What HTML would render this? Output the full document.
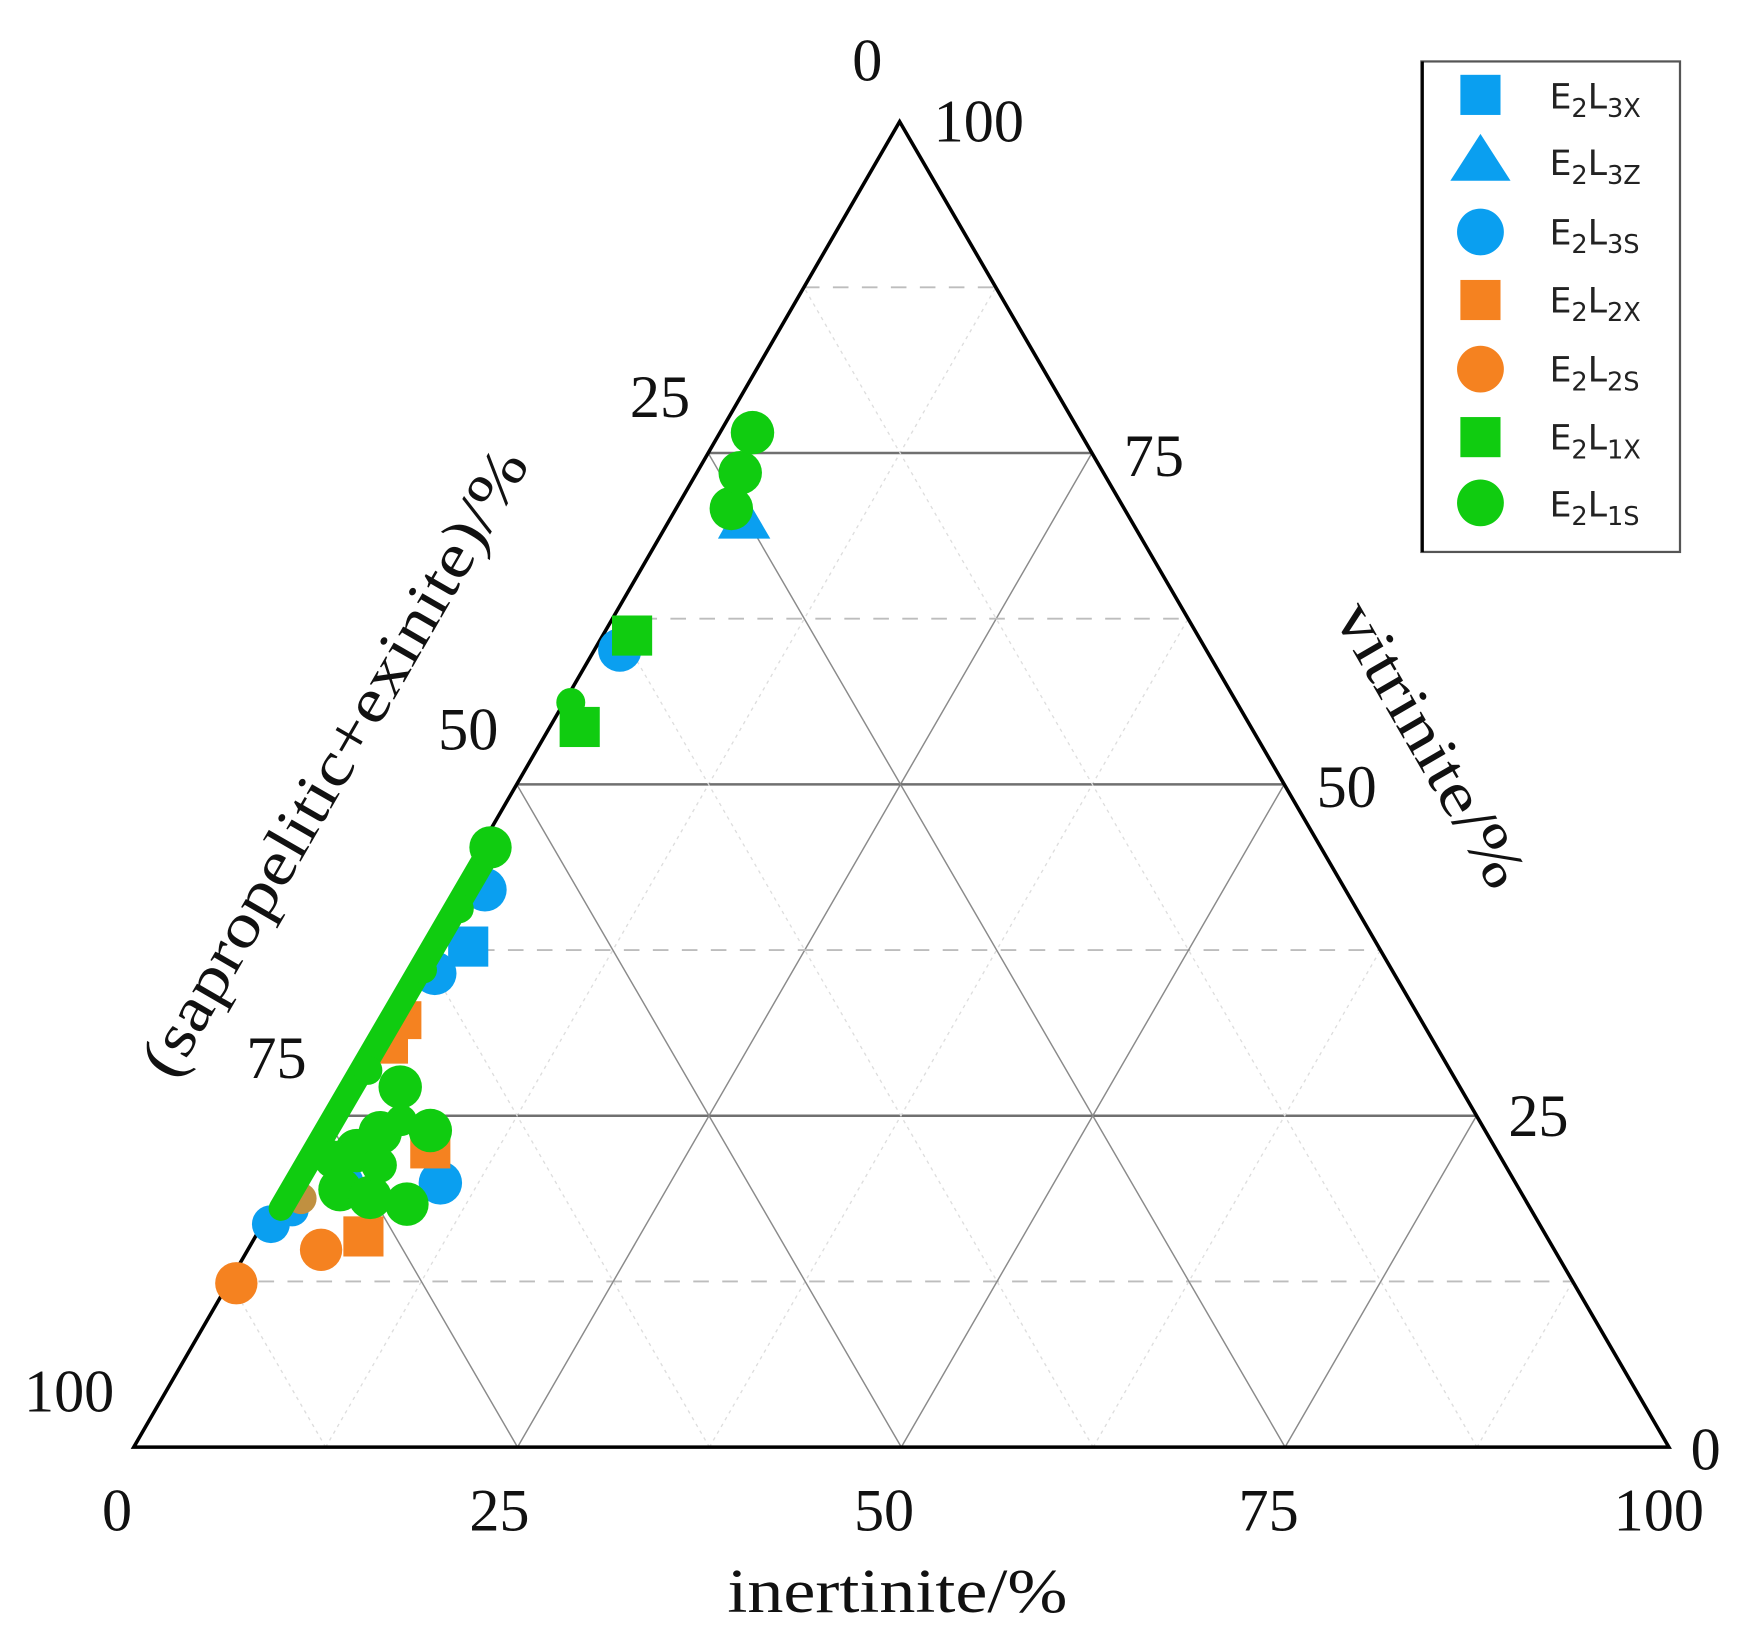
<!DOCTYPE html>
<html><head><meta charset="utf-8"><style>html,body{margin:0;padding:0;background:#fff}svg{display:block}</style></head>
<body>
<svg width="1748" height="1639" viewBox="0 0 1568 1470" xmlns="http://www.w3.org/2000/svg" font-family="'Liberation Serif',serif">
<rect width="1568" height="1470" fill="#fff"/>
<g id="grid"></g>
<script>
(function(){
var A=[807,109],L=[120,1298],R=[1497,1298];
var g=document.getElementById('grid'),ns='http://www.w3.org/2000/svg';
function P(i,v){
 return [L[0]+i*(R[0]-L[0])+v*(A[0]-L[0]), L[1]+v*(A[1]-L[1])];}
function ln(p,q,st,w,da){var e=document.createElementNS(ns,'line');e.setAttribute('x1',p[0]);e.setAttribute('y1',p[1]);e.setAttribute('x2',q[0]);e.setAttribute('y2',q[1]);e.setAttribute('stroke',st);e.setAttribute('stroke-width',w);if(da)e.setAttribute('stroke-dasharray',da);g.appendChild(e);}
for(var k=1;k<8;k++){var f=k/8,major=(k%2==0);
 ln(P(0,f),P(1-f,f),major?'#707070':'#bdbdbd',major?2.2:1.6,major?null:'14,12');
 ln(P(f,0),P(f,1-f),major?'#8a8a8a':'#dddddd',major?1.3:1.2,major?null:'3,4');
 ln(P(f,0),P(0,f),major?'#8a8a8a':'#dddddd',major?1.3:1.2,major?null:'3,4');
}
})();
</script>
<polygon points="807,109 120,1298 1497,1298" fill="none" stroke="#000" stroke-width="3.2" stroke-linejoin="miter"/>

<polygon points="644,483 691,483 667,442" fill="#0a9ff0"/>
<circle cx="656" cy="456" r="19.5" fill="#10cc10"/>
<circle cx="664" cy="424" r="19.5" fill="#10cc10"/>
<circle cx="675" cy="388" r="19.5" fill="#10cc10"/>
<circle cx="556" cy="583" r="19.5" fill="#0a9ff0"/>
<rect x="549" y="552" width="36" height="36" fill="#10cc10"/>
<circle cx="512" cy="630" r="13" fill="#10cc10"/>
<rect x="502" y="634" width="36" height="36" fill="#10cc10"/>

<circle cx="435" cy="798" r="19.5" fill="#0a9ff0"/>
<rect x="402" y="831" width="36" height="36" fill="#0a9ff0"/>
<rect x="383" y="858" width="20" height="20" fill="#f58220"/>
<circle cx="390" cy="873" r="19.5" fill="#0a9ff0"/>
<rect x="348" y="898" width="30" height="34" fill="#f58220"/>
<rect x="340" y="920" width="26" height="34" fill="#f58220"/>
<circle cx="395" cy="1061" r="19.5" fill="#0a9ff0"/>
<rect x="368" y="1012" width="36" height="36" fill="#f58220"/>
<circle cx="243" cy="1098" r="17" fill="#0a9ff0"/>
<circle cx="262" cy="1085" r="15" fill="#0a9ff0"/>
<circle cx="310" cy="1060" r="16" fill="#0a9ff0"/>
<rect x="308" y="1091" width="36" height="36" fill="#f58220"/>
<circle cx="288" cy="1121" r="19" fill="#f58220"/>
<circle cx="212" cy="1151" r="19" fill="#f58220"/>
<circle cx="270" cy="1075" r="14" fill="#c09040"/>

<line x1="436" y1="768" x2="252" y2="1084" stroke="#10cc10" stroke-width="22" stroke-linecap="round"/>
<circle cx="440" cy="760" r="19" fill="#10cc10"/>
<circle cx="412" cy="815" r="13" fill="#10cc10"/>
<circle cx="380" cy="870" r="12" fill="#10cc10"/>
<circle cx="330" cy="960" r="13" fill="#10cc10"/>

<circle cx="359" cy="975" r="19.5" fill="#10cc10"/>
<circle cx="386" cy="1014" r="19.5" fill="#10cc10"/>
<circle cx="341" cy="1016" r="19.5" fill="#10cc10"/>
<circle cx="320" cy="1032" r="19.5" fill="#10cc10"/>
<circle cx="299" cy="1040" r="17" fill="#10cc10"/>
<circle cx="305" cy="1067" r="19.5" fill="#10cc10"/>
<circle cx="332" cy="1074" r="19.5" fill="#10cc10"/>
<circle cx="365" cy="1080" r="19.5" fill="#10cc10"/>
<circle cx="360" cy="1005" r="14" fill="#10cc10"/>
<circle cx="340" cy="1045" r="16" fill="#10cc10"/>

<g font-size="54" fill="#111" text-anchor="middle">
<text x="778" y="72">0</text>
<text x="878" y="127">100</text>
<text x="592" y="374">25</text>
<text x="420" y="672">50</text>
<text x="248" y="967">75</text>
<text x="62" y="1266">100</text>
<text x="1035" y="427">75</text>
<text x="1208" y="724">50</text>
<text x="1380" y="1019">25</text>
<text x="1530" y="1318">0</text>
<text x="105" y="1373">0</text>
<text x="448" y="1373">25</text>
<text x="793" y="1373">50</text>
<text x="1138" y="1373">75</text>
<text x="1488" y="1373">100</text>
</g>
<g font-size="56" fill="#111" text-anchor="middle">
<text x="805" y="1446" textLength="305" lengthAdjust="spacingAndGlyphs">inertinite/%</text>
<text transform="translate(300,684) rotate(-60)" x="0" y="18" textLength="640" lengthAdjust="spacingAndGlyphs">(sapropelitic+exinite)/%</text>
<text transform="translate(1283,668) rotate(60)" x="0" y="18" textLength="286" lengthAdjust="spacingAndGlyphs">vitrinite/%</text>
</g>

<rect x="1275" y="55" width="232" height="440" fill="#fff" stroke="#555" stroke-width="2"/>
<line x1="1276" y1="55" x2="1276" y2="495" stroke="#000" stroke-width="2.5"/>
<rect x="1310" y="67" width="36" height="36" fill="#0a9ff0"/>
<polygon points="1301,162 1355,162 1328,120" fill="#0a9ff0"/>
<circle cx="1328" cy="208" r="21" fill="#0a9ff0"/>
<rect x="1310" y="251" width="36" height="36" fill="#f58220"/>
<circle cx="1328" cy="331" r="21" fill="#f58220"/>
<rect x="1310" y="374" width="36" height="36" fill="#10cc10"/>
<circle cx="1328" cy="451" r="21" fill="#10cc10"/>
<g font-family="'DejaVu Sans','Liberation Sans',sans-serif" font-size="31" fill="#222">
<text x="1390" y="97">E<tspan font-size="23" dy="8">2</tspan><tspan dy="-8">L</tspan><tspan font-size="23" dy="8">3X</tspan></text>
<text x="1390" y="157">E<tspan font-size="23" dy="8">2</tspan><tspan dy="-8">L</tspan><tspan font-size="23" dy="8">3Z</tspan></text>
<text x="1390" y="219">E<tspan font-size="23" dy="8">2</tspan><tspan dy="-8">L</tspan><tspan font-size="23" dy="8">3S</tspan></text>
<text x="1390" y="280">E<tspan font-size="23" dy="8">2</tspan><tspan dy="-8">L</tspan><tspan font-size="23" dy="8">2X</tspan></text>
<text x="1390" y="342">E<tspan font-size="23" dy="8">2</tspan><tspan dy="-8">L</tspan><tspan font-size="23" dy="8">2S</tspan></text>
<text x="1390" y="403">E<tspan font-size="23" dy="8">2</tspan><tspan dy="-8">L</tspan><tspan font-size="23" dy="8">1X</tspan></text>
<text x="1390" y="463">E<tspan font-size="23" dy="8">2</tspan><tspan dy="-8">L</tspan><tspan font-size="23" dy="8">1S</tspan></text>
</g>
</svg>
</body></html>
